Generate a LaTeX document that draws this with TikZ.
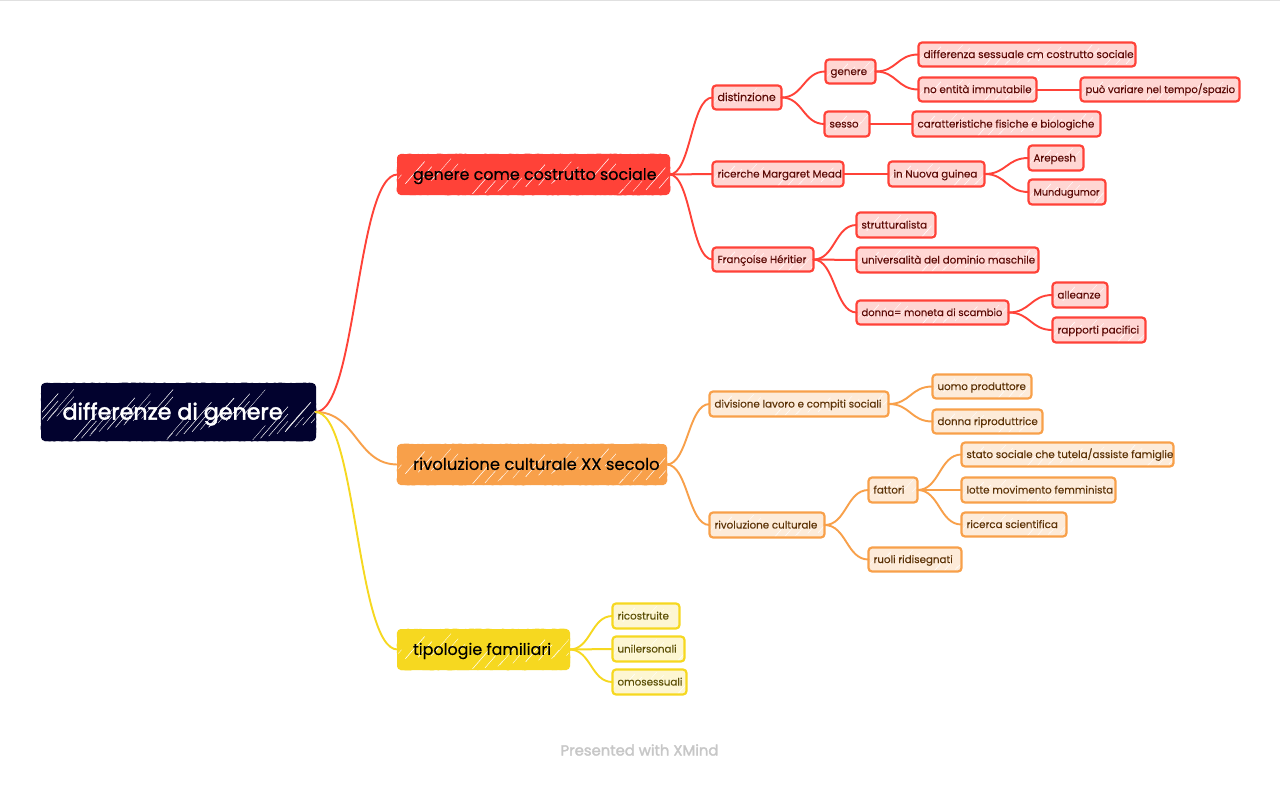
\documentclass[tikz,border=0pt]{standalone}
\usepackage{fontspec}
\setmainfont{Poppins}
\newfontfamily\medf[FakeBold=0.15]{Poppins}
\newfontfamily\semif[FakeBold=2]{Poppins}
\usetikzlibrary{calc,decorations.pathmorphing}
\definecolor{navy}{HTML}{02022E}
\definecolor{redm}{HTML}{FF4238}
\definecolor{redl}{HTML}{FFD6D3}
\definecolor{redt}{HTML}{5C0A06}
\definecolor{orgm}{HTML}{F8A04A}
\definecolor{orgl}{HTML}{FDEBD9}
\definecolor{orgt}{HTML}{5C3206}
\definecolor{yelm}{HTML}{F6D820}
\definecolor{yell}{HTML}{FDF6D2}
\definecolor{yelt}{HTML}{5C4F06}
\pgfmathsetseed{4242}
\newcommand\hatchlines[1]{%
  \pgfmathsetmacro\hatchWW{\boxWW}%
  \pgfmathsetmacro\hatchHH{\boxHH}%
  \pgfmathtruncatemacro\hatchN{(\hatchWW+\hatchHH)/#1+2}%
  \foreach \hatchI in {0,...,\hatchN}{%
    \pgfmathsetmacro\hatchA{mod(\hatchI*37+3,17)/17}%
    \pgfmathsetmacro\hatchB{mod(\hatchI*53+5,13)/13}%
    \pgfmathsetmacro\hatchC{mod(\hatchI*29+7,11)/11}%
    \pgfmathsetmacro\hatchX{-0.5*\hatchWW-0.5*\hatchHH+\hatchI*#1+\hatchA*#1}%
    \pgfmathsetmacro\hatchY{0.5*\hatchHH-\hatchB*0.5*\hatchHH}%
    \pgfmathsetmacro\hatchL{\hatchHH*(.12+.4*\hatchC)}%
    \pgfmathsetmacro\hatchT{.3+.6*\hatchA*\hatchC}%
    \draw[white,line width=\hatchT pt,rounded corners=0pt]
      ($(path picture bounding box.center)+(\hatchX,\hatchY)$) -- ++(\hatchL,-1.15*\hatchL);
  }}
\tikzset{
  x=1pt,y=-1pt,
  baseshape/.style={rectangle,rounded corners=3.5pt,inner sep=0pt,outer sep=0pt,anchor=center},
  rootbox/.style={baseshape,fill=navy,draw=navy,line width=1pt,text=white,
    path picture={\hatchlines{7}},font=\semif\fontsize{22.2}{24}\selectfont},
  mainbox/.style={baseshape,fill=#1,draw=#1,line width=1pt,text=black,
    path picture={\hatchlines{11}},font=\medf\fontsize{15.9}{20}\selectfont},
  subbox/.style n args={3}{baseshape,fill=#2,draw=#1,line width=2.2pt,text=#3,
    path picture={\hatchlines{9}},font=\medf\fontsize{10.3}{12}\selectfont},
  redbox/.style={subbox={redm}{redl}{redt}},
  orgbox/.style={subbox={orgm}{orgl}{orgt}},
  yelbox/.style={subbox={yelm}{yell}{yelt}},
  link/.style={line width=1.9pt,line cap=round},
  roughedge/.style={line width=1pt,decorate,decoration={random steps,segment length=2.5pt,amplitude=.5pt}},
}
% name x1 y1 x2 y2 style pad text
\newcommand\sk[8]{%
  \pgfmathsetmacro\boxWW{#4-#2-1}\pgfmathsetmacro\boxHH{#5-#3-1}%
  \node[#6,minimum width=\boxWW pt,minimum height=\boxHH pt] (#1) at ({(#2+#4)/2},{(#3+#5)/2})
    {\makebox[\boxWW pt][l]{\hspace{#7pt}\raisebox{0pt}[.95em][.27em]{#8}}};}
\newcommand\rough[2]{%
  \draw[roughedge,#2] ($(#1.north west)+(3,0)$) -- ($(#1.north east)+(-3,0)$);
  \draw[roughedge,#2] ($(#1.south west)+(3,0)$) -- ($(#1.south east)+(-3,0)$);
  \draw[roughedge,#2] ($(#1.north west)+(0,3)$) -- ($(#1.south west)+(0,-3)$);
  \draw[roughedge,#2] ($(#1.north east)+(0,3)$) -- ($(#1.south east)+(0,-3)$);}
\newcommand\lnk[3]{%
  \draw[link,#1] (#2.east) .. controls ($(#2.east)!.5!(#2.east -| #3.west)$) and ($(#3.west)!.5!(#3.west -| #2.east)$) .. (#3.west);}
\newcommand\lns[3]{\draw[link,#1,line width=1.3pt] ($(#2.east)+(0,-.35)$) -- ($(#3.west)+(0,-.35)$);
  \draw[link,#1,line width=1.3pt] ($(#2.east)+(0,.35)$) -- ($(#3.west)+(0,.35)$);}
\begin{document}
\begin{tikzpicture}
\fill[white] (0,0) rectangle (1280,788);
\useasboundingbox (0,0) rectangle (1280,788);
\draw[black!12,line width=1pt] (0,0.5) -- (1280,0.5);

\sk{root}{41}{383}{316}{441}{rootbox}{21}{differenze di genere}
\sk{m1}{397}{154}{670}{195}{mainbox=redm}{15.5}{genere come costrutto sociale}
\sk{m2}{397}{444}{667}{485}{mainbox=orgm}{15.5}{\fontsize{16.4}{20}\selectfont rivoluzione culturale XX secolo}
\sk{m3}{397}{629}{570}{670}{mainbox=yelm}{15.5}{tipologie familiari}
\rough{root}{navy}\rough{m1}{redm}\rough{m2}{orgm}\rough{m3}{yelm}

\sk{r1}{712}{85}{782}{110}{redbox}{5}{\fontsize{11}{12}\selectfont distinzione}
\sk{r2}{825}{59}{876}{84}{redbox}{5}{genere}
\sk{r3}{918}{42}{1136}{67}{redbox}{5}{\fontsize{10.45}{12}\selectfont differenza sessuale cm costrutto sociale}
\sk{r4}{918}{77}{1037}{102}{redbox}{5}{no entità immutabile}
\sk{r5}{1080}{77}{1240}{102}{redbox}{5}{\fontsize{10.1}{12}\selectfont può variare nel tempo/spazio}
\sk{r6}{824}{111}{870}{137}{redbox}{5}{sesso}
\sk{r7}{912}{111}{1101}{137}{redbox}{5}{caratteristiche fisiche e biologiche}
\sk{r8}{712}{161}{844}{187}{redbox}{5}{ricerche Margaret Mead}
\sk{r9}{888}{161}{985}{187}{redbox}{5}{in Nuova guinea}
\sk{r10}{1028}{145}{1084}{171}{redbox}{5}{Arepesh}
\sk{r11}{1028}{179}{1106}{205}{redbox}{5}{\fontsize{9.7}{12}\selectfont Mundugumor}
\sk{r12}{712}{247}{814}{272}{redbox}{5}{Françoise Héritier}
\sk{r13}{856}{212}{936}{238}{redbox}{5}{strutturalista}
\sk{r14}{856}{247}{1039}{273}{redbox}{5}{universalità del dominio maschile}
\sk{r15}{856}{300}{1009}{325}{redbox}{5}{\fontsize{10}{12}\selectfont donna= moneta di scambio}
\sk{r16}{1052}{282}{1108}{308}{redbox}{5}{alleanze}
\sk{r17}{1052}{317}{1146}{343}{redbox}{5}{rapporti pacifici}

\sk{o1}{709}{391}{889}{417}{orgbox}{5}{divisione lavoro e compiti sociali}
\sk{o2}{932}{374}{1032}{399}{orgbox}{5}{uomo produttore}
\sk{o3}{932}{409}{1043}{434}{orgbox}{5}{donna riproduttrice}
\sk{o4}{709}{512}{825}{538}{orgbox}{5}{rivoluzione culturale}
\sk{o5}{868}{477}{918}{503}{orgbox}{5}{fattori}
\sk{o6}{961}{442}{1174}{467}{orgbox}{5}{\fontsize{10.35}{12}\selectfont stato sociale che tutela/assiste famiglie}
\sk{o7}{961}{477}{1116}{503}{orgbox}{5}{lotte movimento femminista}
\sk{o8}{961}{512}{1067}{537}{orgbox}{5}{ricerca scientifica}
\sk{o9}{868}{547}{962}{572}{orgbox}{5}{ruoli ridisegnati}

\sk{y1}{612}{603}{680}{629}{yelbox}{5}{ricostruite}
\sk{y2}{612}{636}{685}{662}{yelbox}{5}{unilersonali}
\sk{y3}{612}{669}{687}{695}{yelbox}{5}{omosessuali}

\lnk{redm}{root}{m1}
\lnk{orgm}{root}{m2}
\lnk{yelm}{root}{m3}
\lnk{redm}{m1}{r1}\lns{redm}{m1}{r8}\lnk{redm}{m1}{r12}
\lnk{redm}{r1}{r2}\lnk{redm}{r1}{r6}
\lnk{redm}{r2}{r3}\lnk{redm}{r2}{r4}\lns{redm}{r4}{r5}\lns{redm}{r6}{r7}
\lns{redm}{r8}{r9}\lnk{redm}{r9}{r10}\lnk{redm}{r9}{r11}
\lnk{redm}{r12}{r13}\lns{redm}{r12}{r14}\lnk{redm}{r12}{r15}
\lnk{redm}{r15}{r16}\lnk{redm}{r15}{r17}
\lnk{orgm}{m2}{o1}\lnk{orgm}{m2}{o4}
\lnk{orgm}{o1}{o2}\lnk{orgm}{o1}{o3}
\lnk{orgm}{o4}{o5}\lnk{orgm}{o4}{o9}
\lnk{orgm}{o5}{o6}\lns{orgm}{o5}{o7}\lnk{orgm}{o5}{o8}
\lnk{yelm}{m3}{y1}\lns{yelm}{m3}{y2}\lnk{yelm}{m3}{y3}

\node[text=black!22,font=\semif\fontsize{14.8}{16}\selectfont] (credit) at (639.5,750) {Presented with XMind};
\end{tikzpicture}
\end{document}
